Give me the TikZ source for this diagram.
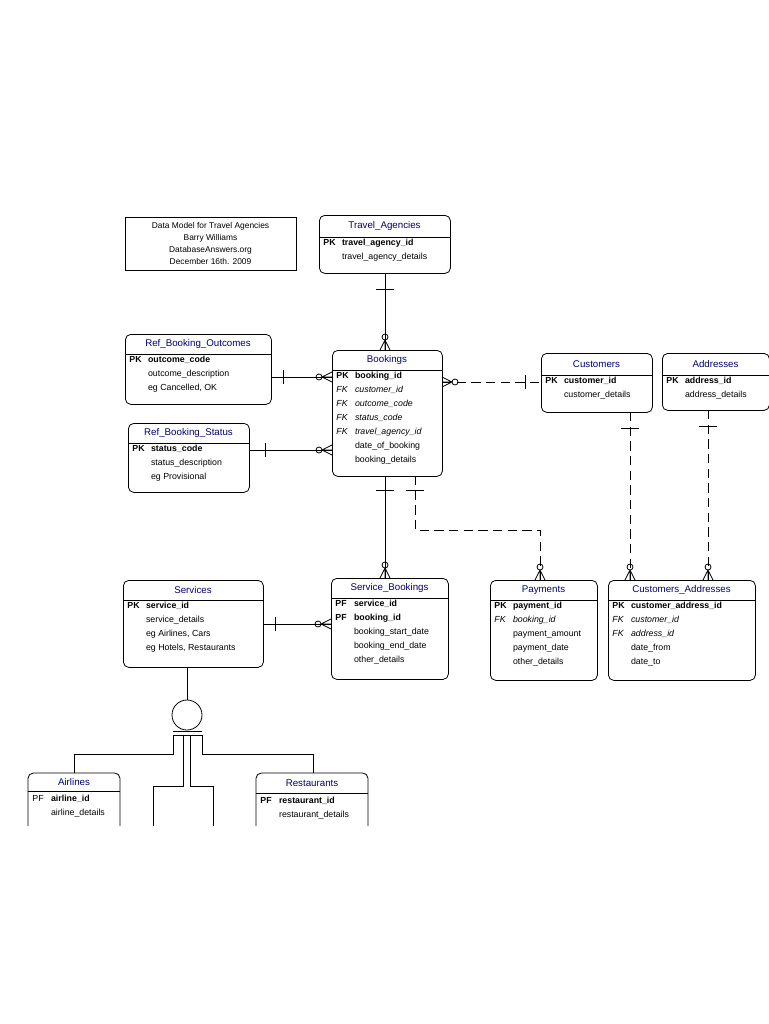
\documentclass[tikz,border=0pt]{standalone}
\usepackage{fontspec}
\setmainfont{Liberation Sans}
\begin{document}
\begin{tikzpicture}[x=0.75pt,y=-0.75pt,line width=0.6pt,
  box/.style={draw,rounded corners=4pt,anchor=north west,inner sep=0pt},
  hdr/.style={text=blue!45!black,font=\fontsize{7.3}{9}\selectfont},
  rows/.style={anchor=north west,align=left,inner sep=0pt,font=\fontsize{6.6}{10.5}\selectfont},
  dsh/.style={dash pattern=on 7pt off 4pt}]
\useasboundingbox (0,0) rectangle (768,1024);
\newcommand\ent[8]{%
  \node[box,minimum width=#4*0.75pt,minimum height=#5*0.75pt] (#1) at (#2,#3) {};
  \draw ({#2},{#3+#6}) -- ({#2+#4},{#3+#6});
  \node[hdr] (#1-t) at ({#2+#4/2},{#3+#6/2}) {#7};
  \node[rows] (#1-r) at ({#2+4},{#3+#6+2}) {#8};}
\newcommand\kk[2]{\makebox[14pt][l]{#1}#2}
\newcommand\crowS[2]{\draw ({#1},{#2-10}) -- ({#1-5},#2) ({#1},{#2-10}) -- (#1,#2) ({#1},{#2-10}) -- ({#1+5},#2); \draw ({#1},{#2-13}) circle (3);}
\newcommand\crowE[2]{\draw ({#1-10},#2) -- (#1,{#2-5}) ({#1-10},#2) -- (#1,#2) ({#1-10},#2) -- (#1,{#2+5}); \draw ({#1-13},#2) circle (3);}
\newcommand\crowW[2]{\draw ({#1+10},#2) -- (#1,{#2-5}) ({#1+10},#2) -- (#1,#2) ({#1+10},#2) -- (#1,{#2+5}); \draw ({#1+13},#2) circle (3);}
\newcommand\barH[2]{\draw (#1,{#2-7}) -- (#1,{#2+7});}
\newcommand\barV[2]{\draw ({#1-9},#2) -- ({#1+9},#2);}

% title box
\node[draw,anchor=north west,minimum width=171*0.75pt,minimum height=53*0.75pt,inner sep=0pt] (title) at (125,217) {};
\node[align=center,font=\fontsize{6.3}{9}\selectfont] (title-t) at (210.5,243.5) {Data Model for Travel Agencies\\Barry Williams\\DatabaseAnswers.org\\December 16th. 2009};

\ent{ta}{319}{215}{131}{58}{22}{Travel\_Agencies}{\kk{\textbf{PK}}{\textbf{travel\_agency\_id}}\\\kk{}{travel\_agency\_details}}
\ent{rbo}{125}{334}{146}{70}{20}{Ref\_Booking\_Outcomes}{\kk{\textbf{PK}}{\textbf{outcome\_code}}\\\kk{}{outcome\_description}\\\kk{}{eg Cancelled, OK}}
\ent{rbs}{128}{423}{121}{69}{20}{Ref\_Booking\_Status}{\kk{\textbf{PK}}{\textbf{status\_code}}\\\kk{}{status\_description}\\\kk{}{eg Provisional}}
\ent{bk}{332}{350}{110}{126}{20}{Bookings}{\kk{\textbf{PK}}{\textbf{booking\_id}}\\\kk{\textit{FK}}{\textit{customer\_id}}\\\kk{\textit{FK}}{\textit{outcome\_code}}\\\kk{\textit{FK}}{\textit{status\_code}}\\\kk{\textit{FK}}{\textit{travel\_agency\_id}}\\\kk{}{date\_of\_booking}\\\kk{}{booking\_details}}
\ent{cu}{541}{353}{111}{59}{22}{Customers}{\kk{\textbf{PK}}{\textbf{customer\_id}}\\\kk{}{customer\_details}}
\ent{ad}{662}{353}{107}{57}{22}{Addresses}{\kk{\textbf{PK}}{\textbf{address\_id}}\\\kk{}{address\_details}}
\ent{sv}{123}{580}{140}{87}{20}{Services}{\kk{\textbf{PK}}{\textbf{service\_id}}\\\kk{}{service\_details}\\\kk{}{eg Airlines, Cars}\\\kk{}{eg Hotels, Restaurants}}
\ent{sb}{331}{578}{117}{101}{20}{Service\_Bookings}{\kk{\textbf{PF}}{\textbf{service\_id}}\\\kk{\textbf{PF}}{\textbf{booking\_id}}\\\kk{}{booking\_start\_date}\\\kk{}{booking\_end\_date}\\\kk{}{other\_details}}
\ent{pa}{490}{580}{107}{100}{20}{Payments}{\kk{\textbf{PK}}{\textbf{payment\_id}}\\\kk{\textit{FK}}{\textit{booking\_id}}\\\kk{}{payment\_amount}\\\kk{}{payment\_date}\\\kk{}{other\_details}}
\ent{ca}{608}{580}{147}{100}{20}{Customers\_Addresses}{\kk{\textbf{PK}}{\textbf{customer\_address\_id}}\\\kk{\textit{FK}}{\textit{customer\_id}}\\\kk{\textit{FK}}{\textit{address\_id}}\\\kk{}{date\_from}\\\kk{}{date\_to}}

% partially visible subtype boxes (cut at bottom)
\draw[rounded corners=4pt] (28,826) -- (28,773) -- (120,773) -- (120,826);
\draw (28,791) -- (120,791);
\node[hdr] (al-t) at (74,782) {Airlines};
\node[rows] (al-r) at (32,795) {\kk{PF}{\textbf{airline\_id}}\\\kk{}{airline\_details}};
\draw[rounded corners=4pt] (256,826) -- (256,773) -- (368,773) -- (368,826);
\draw (256,793) -- (368,793);
\node[hdr] (re-t) at (312,783) {Restaurants};
\node[rows] (re-r) at (260,797) {\kk{\textbf{PF}}{\textbf{restaurant\_id}}\\\kk{}{restaurant\_details}};
\fill[white] (0,826) rectangle (768,1024);

% connectors
\coordinate (taB) at (385,273); \coordinate (bkT) at (385,350);
\draw (taB) -- (bkT); \barV{385}{289} \crowS{385}{350}
\coordinate (rboR) at (271,377); \coordinate (bkL1) at (332,377);
\draw (rboR) -- (bkL1); \barH{283}{377} \crowE{332}{377}
\coordinate (rbsR) at (249,450); \coordinate (bkL2) at (332,450);
\draw (rbsR) -- (bkL2); \barH{265}{450} \crowE{332}{450}
\coordinate (bkR) at (442,382); \coordinate (cuL) at (541,382);
\draw[dsh] (bkR) -- (cuL); \barH{525}{382} \crowW{442}{382}
\coordinate (bkB1) at (385,476); \coordinate (sbT) at (385,578);
\draw (bkB1) -- (sbT); \barV{385}{490} \crowS{385}{578}
\coordinate (bkB2) at (415,476); \coordinate (paT) at (540,580);
\draw[dsh] (bkB2) -- (415,530) -- (540,530) -- (paT); \barV{415}{490} \crowS{540}{580}
\coordinate (cuB) at (630,412); \coordinate (caT1) at (630,580);
\draw[dsh] (cuB) -- (caT1); \barV{630}{428} \crowS{630}{580}
\coordinate (adB) at (708,410); \coordinate (caT2) at (708,580);
\draw[dsh] (adB) -- (caT2); \barV{708}{426} \crowS{708}{580}
\coordinate (svR) at (263,624); \coordinate (sbL) at (331,624);
\draw (svR) -- (sbL); \barH{275}{624} \crowE{331}{624}

% subtype symbol
\node[draw,circle,minimum size=30*0.75pt,inner sep=0pt] (cat) at (187,715) {};
\draw (sv.south -| cat.north) -- (cat.north);
\draw (173,731) -- (202,731) (173,735) -- (202,735);
\draw (173,735) -- (173,754) -- (74,754) -- (74,773);
\draw (202,735) -- (202,754) -- (313,754) -- (313,773);
\draw (183,735) -- (183,786) -- (153,786) -- (153,826);
\draw (190,735) -- (190,786) -- (213,786) -- (213,826);
\end{tikzpicture}
\end{document}
